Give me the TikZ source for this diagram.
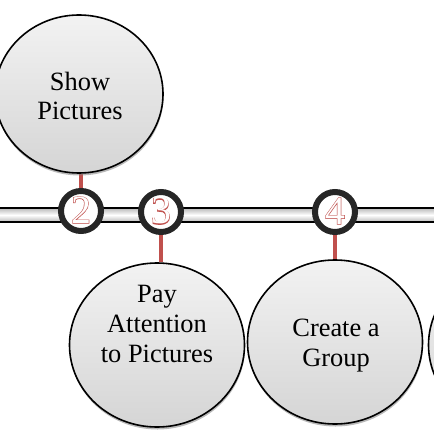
\documentclass[tikz,border=0pt]{standalone}
\usepackage{fontspec}
\setmainfont{Liberation Serif}
\newfontfamily\numfont[FakeBold=2.5]{Liberation Serif}
\usetikzlibrary{shapes.geometric,shadows,backgrounds}
\definecolor{conred}{RGB}{192,80,77}
\definecolor{ringc}{RGB}{38,38,38}
\tikzset{
  bubble/.style={ellipse, draw=black, line width=1.6bp, top color=gray!10, bottom color=gray!33,
    inner sep=0pt, minimum width=175bp, minimum height=164bp,
    drop shadow={shadow xshift=0.5bp, shadow yshift=-2.5bp, fill=black!50, opacity=0.55}},
  lbl/.style={align=center, font=\fontsize{26.5}{30}\selectfont, inner sep=0pt},
  ring/.style={circle, draw=ringc, line width=6bp, fill=white, minimum size=40bp, inner sep=0pt},
  conn/.style={draw=conred, line width=4bp},
  numred/.style={inner sep=0pt, text=conred, font=\numfont\fontsize{40}{40}\selectfont},
  numwhite/.style={inner sep=0pt, text=white, font=\fontsize{40}{40}\selectfont},
  barline/.style={line width=2.2bp, draw=black}
}
\begin{document}
\begin{tikzpicture}[x=1bp,y=-1bp]
\useasboundingbox (0,0) rectangle (434,434);
\clip (0,0) rectangle (434,434);
% bar
\shade[top color=gray!55, bottom color=gray!55, middle color=white] (-5,208) rectangle (440,222);
\coordinate (bl1) at (-5,208); \coordinate (br1) at (440,208);
\coordinate (bl2) at (-5,222); \coordinate (br2) at (440,222);
\draw[barline] (bl1) -- (br1);
\draw[barline] (bl2) -- (br2);
% bubbles
\node[bubble, minimum width=168bp, minimum height=158bp] (show) at (79,94) {};
\node[bubble] (pay) at (157,345) {};
\node[bubble] (group) at (335,342) {};
\node[bubble] (next) at (516,345) {};
\node[lbl] (tshow) at (80,96) {Show\\Pictures};
\node[lbl] (tpay) at (157,324) {Pay\\Attention\\to Pictures};
\node[lbl] (tgroup) at (336,346) {Create a\\Group};
% rings
\node[ring] (n2) at (81,211) {};
\node[ring] (n3) at (161,212) {};
\node[ring] (n4) at (335,212) {};
\foreach \n/\d in {n2/2,n3/3,n4/4}{
  \node[numred] (r\n) at ([yshift=1bp]\n.center) {\d};
  \node[numwhite] (w\n) at ([yshift=1bp]\n.center) {\d};
}
% connectors
\begin{scope}[on background layer]
\draw[conn] (n2 |- show.south) -- (n2.north);
\draw[conn] (n3.south) -- (n3 |- pay.north);
\draw[conn] (n4.south) -- (n4 |- group.north);
\end{scope}
\end{tikzpicture}
\end{document}
